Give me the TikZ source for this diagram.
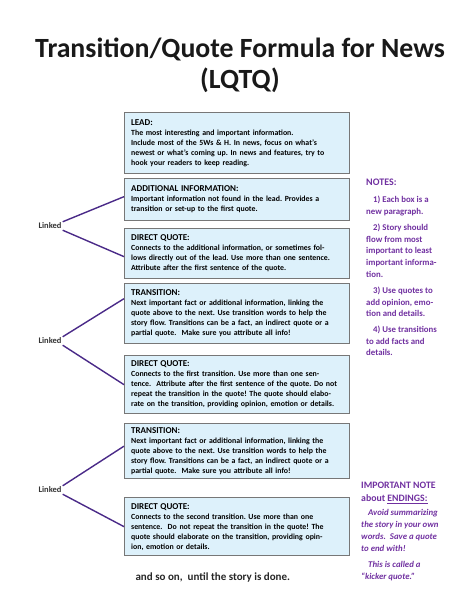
\documentclass[tikz,border=0pt]{standalone}
\usepackage{fontspec}
\setmainfont{Carlito}
\usetikzlibrary{positioning}
\definecolor{boxfill}{HTML}{DDF1FB}
\definecolor{boxline}{HTML}{777777}
\definecolor{linkcol}{HTML}{4A2A88}
\definecolor{notecol}{HTML}{7030A0}
\newcommand{\boxhead}[1]{{\fontsize{9}{10}\selectfont #1}}
\frenchspacing
\begin{document}
\begin{tikzpicture}[x=1pt,y=-1pt,
    infobox/.style={draw=boxline, line width=1.3pt, fill=boxfill, anchor=north west,
      text width=212pt, inner xsep=6.5pt, inner ysep=2pt, align=left,
      font=\bfseries\fontsize{7.85}{10}\selectfont},
    linkline/.style={draw=linkcol, line width=1.4pt},
    linklabel/.style={font=\bfseries\fontsize{8.5}{9}\selectfont, text=black!80, inner sep=1pt},
    notetext/.style={anchor=north west, align=left, text=notecol, inner sep=0pt}]
  \useasboundingbox (0,0) rectangle (474,606);
  % title
  \node[font=\bfseries\fontsize{27.8}{31}\selectfont, align=center, text=black!90] (title) at (240,65)
    {Transition/Quote Formula for News\\(LQTQ)};
  % boxes
  \node[infobox, minimum height=61pt] (lead) at (124,112)
    {\boxhead{LEAD:}\\
     The most interesting and important information.\\
     Include most of the 5Ws \& H. In news, focus on what’s\\
     newest or what’s coming up. In news and features, try to\\
     hook your readers to keep reading.};
  \node[infobox, minimum height=42pt] (addinfo) at (124,178)
    {\boxhead{ADDITIONAL INFORMATION:}\\
     Important information not found in the lead. Provides a\\
     transition or set-up to the first quote.};
  \node[infobox, minimum height=50pt] (quote1) at (124,228)
    {\boxhead{DIRECT QUOTE:}\\
     Connects to the additional information, or sometimes fol-\\
     lows directly out of the lead. Use more than one sentence.\\
     Attribute after the first sentence of the quote.};
  \node[infobox, minimum height=60pt] (trans1) at (124,283)
    {\boxhead{TRANSITION:}\\
     Next important fact or additional information, linking the\\
     quote above to the next. Use transition words to help the\\
     story flow. Transitions can be a fact, an indirect quote or a\\
     partial quote.\ \ Make sure you attribute all info!};
  \node[infobox, minimum height=58pt] (quote2) at (124,355)
    {\boxhead{DIRECT QUOTE:}\\
     Connects to the first transition. Use more than one sen-\\
     tence.\ \ Attribute after the first sentence of the quote. Do not\\
     repeat the transition in the quote! The quote should elabo-\\
     rate on the transition, providing opinion, emotion or details.};
  \node[infobox, minimum height=55pt] (trans2) at (124,423)
    {\boxhead{TRANSITION:}\\
     Next important fact or additional information, linking the\\
     quote above to the next. Use transition words to help the\\
     story flow. Transitions can be a fact, an indirect quote or a\\
     partial quote.\ \ Make sure you attribute all info!};
  \node[infobox, minimum height=58pt] (quote3) at (124,497)
    {\boxhead{DIRECT QUOTE:}\\
     Connects to the second transition. Use more than one\\
     sentence.\ \ Do not repeat the transition in the quote! The\\
     quote should elaborate on the transition, providing opin-\\
     ion, emotion or details.};
  \node[anchor=west, font=\bfseries\fontsize{11}{13}\selectfont, text=black!85] (soon) at (132,577)
    {and so on,\ \ until the story is done.};
  % linked
  \node[linklabel] (link1) at (50,226) {Linked};
  \node[linklabel] (link2) at (50,341) {Linked};
  \node[linklabel] (link3) at (50,490) {Linked};
  \draw[linkline] (link1.north east) -- ([yshift=3pt]addinfo.west);
  \draw[linkline] (link1.south east) -- ([yshift=-3pt]quote1.west);
  \draw[linkline] (link2.north east) -- ([yshift=15pt]trans1.west);
  \draw[linkline] (link2.south east) -- (quote2.west);
  \draw[linkline] (link3.north east) -- ([yshift=5pt]trans2.west);
  \draw[linkline] (link3.south east) -- (quote3.west);
  % notes
  \node[notetext, font=\bfseries\fontsize{8.8}{11.7}\selectfont] (notes) at (366,179)
    {{\fontsize{10}{11.7}\selectfont NOTES:}\\[5pt]
     \hspace*{7pt}1) Each box is a\\
     new paragraph.\\[4.5pt]
     \hspace*{7pt}2) Story should\\
     flow from most\\
     important to least\\
     important informa-\\
     tion.\\[4.5pt]
     \hspace*{7pt}3) Use quotes to\\
     add opinion, emo-\\
     tion and details.\\[4pt]
     \hspace*{7pt}4) Use transitions\\
     to add facts and\\
     details.};
  \node[notetext, font=\bfseries\fontsize{9.8}{13}\selectfont] (endhead) at (361,482)
    {IMPORTANT NOTE\\
     about \underline{ENDINGS:}};
  \node[notetext, font=\bfseries\itshape\fontsize{8.8}{12}\selectfont, below=5pt of endhead.south west, anchor=north west] (endings)
    {\hspace*{7pt}Avoid summarizing\\
     the story in your own\\
     words.\ \ Save a quote\\
     to end with!\\[4pt]
     \hspace*{7pt}This is called a\\
     “kicker quote.”};
\end{tikzpicture}
\end{document}
